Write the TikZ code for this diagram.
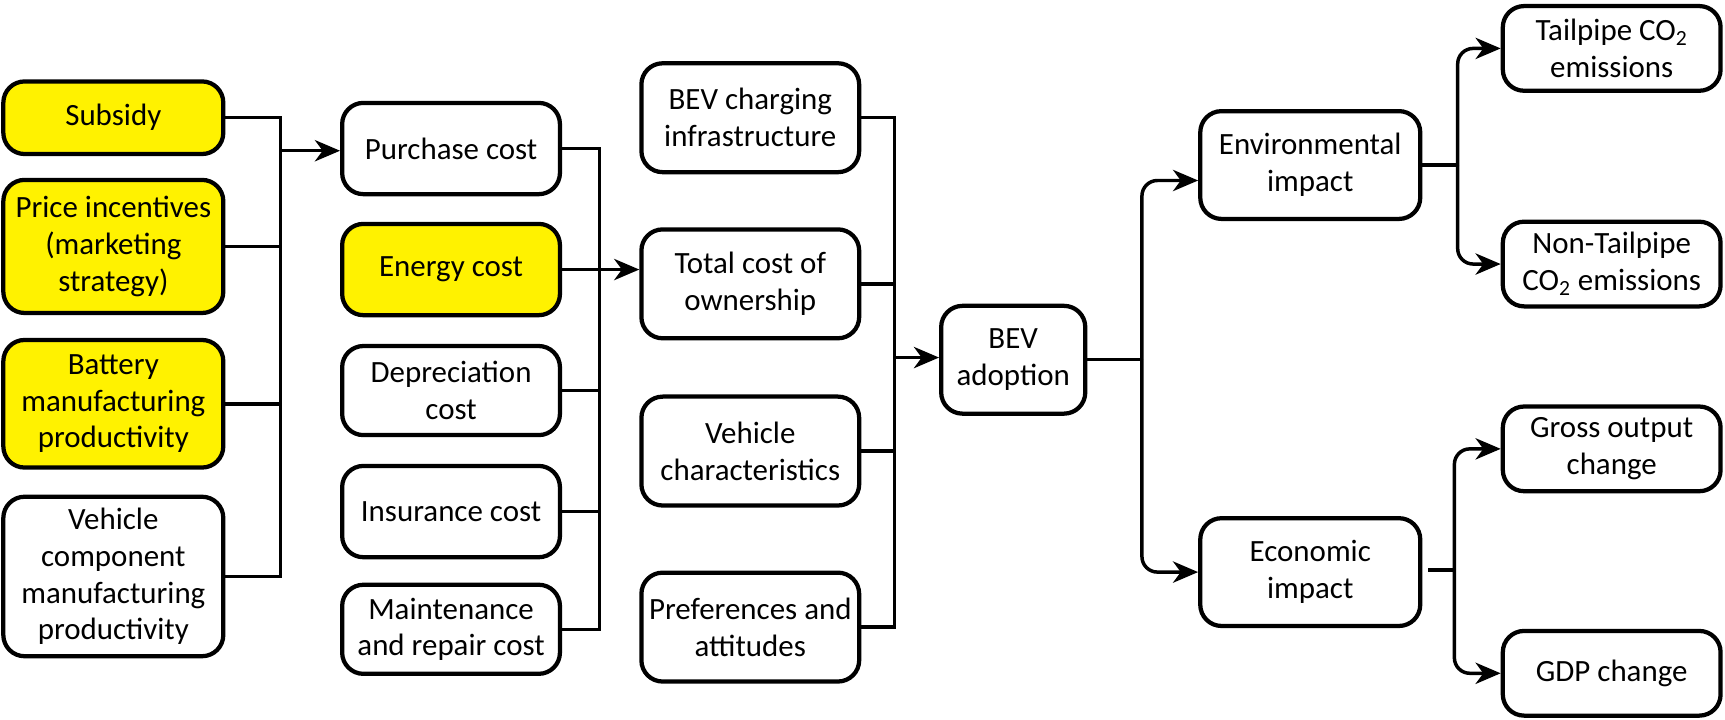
\documentclass[tikz,border=0pt]{standalone}
\usepackage{fontspec}
\setmainfont{Carlito}
\usetikzlibrary{arrows.meta,positioning}
\tikzstyle{block} = [rectangle, draw, line width=2.2pt, rounded corners=11pt,
    align=center, inner sep=2pt, font=\fontsize{16}{19}\selectfont]
\tikzstyle{line} = [draw, line width=1.8pt]
\tikzset{
  hl/.style={fill=yellow},
  colA/.style={block, minimum width=4.0cm},
  colB/.style={block, minimum width=3.96cm},
  colC/.style={block, minimum width=3.96cm},
  colE/.style={block, minimum width=4.0cm, minimum height=1.96cm},
  colF/.style={block, minimum width=3.96cm, minimum height=1.54cm},
  arr/.style={line, -{Stealth[length=13pt,width=11pt,inset=4pt]}},
}
\begin{document}
\begin{tikzpicture}[x=0.02cm, y=-0.02cm]
    \useasboundingbox (0,0) rectangle (1568,654);
    % Place nodes
    \node [colA, hl, minimum height=1.32cm] (subsidy) at (103,107) {Subsidy};
    \node [colA, hl, minimum height=2.42cm] (price) at (103,224) {Price incentives\\(marketing\\strategy)};
    \node [colA, hl, minimum height=2.32cm] (battery) at (103,367) {Battery\\manufacturing\\productivity};
    \node [colA, minimum height=2.90cm] (component) at (103,524) {Vehicle\\component\\manufacturing\\productivity};
    \node [colB, minimum height=1.66cm] (purchase) at (410,135) {Purchase cost};
    \node [colB, hl, minimum height=1.66cm] (energy) at (410,245) {Energy cost};
    \node [colB, minimum height=1.62cm] (deprec) at (410,355) {Depreciation\\cost};
    \node [colB, minimum height=1.66cm] (insur) at (410,465) {Insurance cost};
    \node [colB, minimum height=1.62cm] (maint) at (410,572) {Maintenance\\and repair cost};
    \node [colC, minimum height=1.98cm] (charging) at (682,107) {BEV charging\\infrastructure};
    \node [colC, minimum height=1.98cm] (tco) at (682,258) {Total cost of\\ownership};
    \node [colC, minimum height=1.98cm] (vehchar) at (682,410) {Vehicle\\characteristics};
    \node [colC, minimum height=1.98cm] (prefs) at (682,570) {Preferences and\\attitudes};
    \node [block, minimum width=2.62cm, minimum height=1.96cm] (adoption) at (921,327) {BEV\\adoption};
    \node [colE] (env) at (1191,150) {Environmental\\impact};
    \node [colE] (econ) at (1191,520) {Economic\\impact};
    \node [colF] (tailpipe) at (1465,44) {Tailpipe CO\textsubscript{2}\\emissions};
    \node [colF] (nontail) at (1465,240) {Non-Tailpipe\\CO\textsubscript{2} emissions};
    \node [colF] (gross) at (1465,408) {Gross output\\change};
    \node [colF] (gdp) at (1465,612) {GDP change};
    % Bus coordinates
    \coordinate (busA) at (255,137);
    \coordinate (busB) at (545,245);
    \coordinate (busC) at (813,325);
    \coordinate (busD) at (1038,327);
    \coordinate (busE) at (1325,150);
    \coordinate (busF) at (1322,518);
    % Draw edges
    \path [line] (subsidy.east) -| (busA) |- (component.east);
    \path [line] (price.east) -- (price.east -| busA);
    \path [line] (battery.east) -- (battery.east -| busA);
    \path [arr] (busA) -- (purchase.west |- busA);
    \path [line] (purchase.east) -| (busB) |- (maint.east);
    \path [line] (deprec.east) -- (deprec.east -| busB);
    \path [line] (insur.east) -- (insur.east -| busB);
    \path [arr] (energy.east) -- (tco.west |- energy.east);
    \path [line] (charging.east) -| (busC) |- (prefs.east);
    \path [line] (tco.east) -- (tco.east -| busC);
    \path [line] (vehchar.east) -- (vehchar.east -| busC);
    \path [arr] (busC) -- (adoption.west |- busC);
    \path [line] (adoption.east) -- (busD);
    \path [arr, rounded corners=8pt] (busD) |- ([yshift=-8pt]env.west);
    \path [arr, rounded corners=8pt] (busD) |- (econ.west);
    \path [line] (env.east) -- (busE);
    \path [arr, rounded corners=8pt] (busE) |- (tailpipe.west);
    \path [arr, rounded corners=8pt] (busE) |- (nontail.west);
    \path [line] ([xshift=3pt]econ.east |- busF) -- (busF);
    \path [arr, rounded corners=8pt] (busF) |- (gross.west);
    \path [arr, rounded corners=8pt] (busF) |- (gdp.west);
\end{tikzpicture}
\end{document}
